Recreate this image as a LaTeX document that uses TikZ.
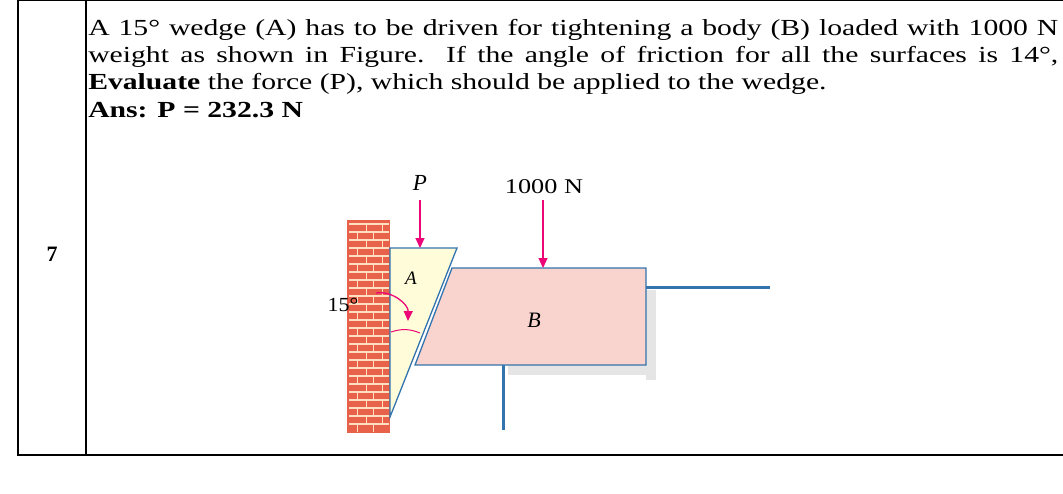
\documentclass[tikz,border=0pt]{standalone}
\usepackage{fontspec}
\setmainfont{Liberation Serif}
\usetikzlibrary{arrows.meta}
\begin{document}
\begin{tikzpicture}[x=1pt,y=-1pt,
  txt/.style={anchor=base west,inner sep=0,xscale=1.29,font=\fontsize{23}{26}\selectfont},
  blue/.style={draw=cyan!60!blue!80!black,line width=1.3},
  force/.style={draw=magenta!80!red,line width=1.3,-{Triangle[width=9,length=10]}}]
\useasboundingbox (0,0) rectangle (1063,493);
\draw[line width=1.2] (18,0) -- (18,455) -- (1063,455) (86,0) -- (86,455) (18,0) -- (1063,0);
\node[txt] (l1) at (88,35) {\makebox[752pt][s]{A 15° wedge (A) has to be driven for tightening a body (B) loaded with 1000 N}};
\node[txt] (l2) at (88,62) {\makebox[752pt][s]{weight as shown in Figure. If the angle of friction for all the surfaces is 14°,}};
\node[txt] (l3) at (88,89) {\textbf{Evaluate} the force (P), which should be applied to the wedge.};
\node[txt] (l4) at (88,117) {\textbf{Ans: P = 232.3 N}};
\node[font=\fontsize{22}{24}\selectfont\bfseries] (n7) at (52,254) {7};
% wall
\fill[red!55!brown!80] (347,220) rectangle (390,433);
\foreach \y [count=\i] in {224,232,...,430}{
  \draw[white!75!orange,line width=1.5] (349,\y) -- (389,\y);
  \pgfmathsetmacro\xo{mod(\i,2)==0 ? 357 : 366}
  \draw[white!75!orange,line width=1] (\xo,\y) -- (\xo,\y+8) (\xo+16,\y) -- (\xo+16,\y+8);}
% shadow
\fill[gray!20] (646,290) rectangle (656,380);
\fill[gray!20] (508,365) rectangle (656,375);
% arms
\draw[blue,line width=3] (646,287) -- (770,287);
\draw[blue,line width=3] (503,365) -- (503,430);
% block B
\draw[blue,fill=brown!15!pink!60] (452,268) -- (646,268) -- (646,365) -- (415,365) -- cycle;
% wedge
\draw[blue,fill=yellow!15] (390,248) -- (457,248) -- (390,417) -- cycle;
\node[font=\itshape\fontsize{19}{20}\selectfont] (A) at (411,278) {A};
\node[font=\itshape\fontsize{22}{24}\selectfont] (B) at (534,320) {B};
% angle
\draw[magenta!80!red,line width=1] (391,332) to[bend left=20] (420,333);
\draw[force] (376,293) to[bend left=50] (408,321);
\node[font=\fontsize{20}{22}\selectfont,xscale=1.1] (ang) at (343,305) {15°};
% forces
\node[font=\itshape\fontsize{23}{24}\selectfont] (P) at (420,183) {P};
\coordinate (Pt) at (420,248);
\draw[force] (420,200) -- (Pt);
\node[font=\fontsize{21}{22}\selectfont,xscale=1.25] (W) at (544,187) {1000 N};
\coordinate (Wt) at (543,268);
\draw[force] (543,200) -- (Wt);
\end{tikzpicture}
\end{document}
